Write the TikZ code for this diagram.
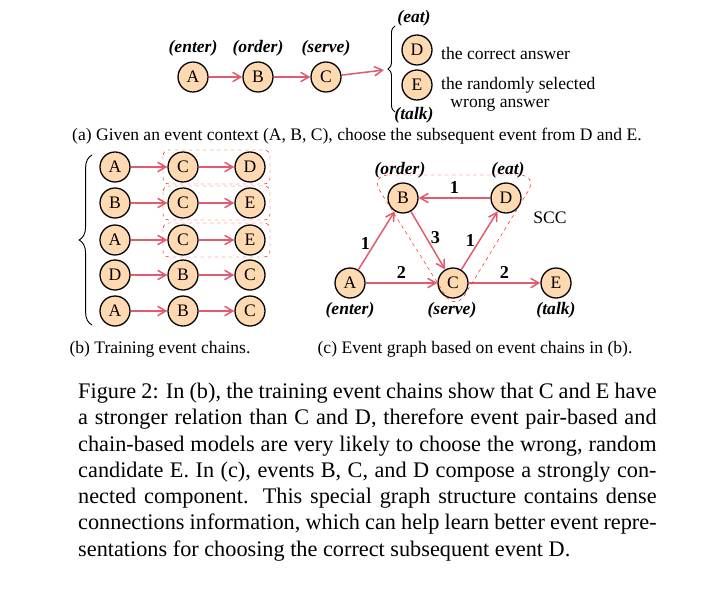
\documentclass[tikz,border=0pt]{standalone}
\usepackage{fontspec}
\setmainfont{Liberation Serif}
\usetikzlibrary{arrows.meta,decorations.pathreplacing}
\begin{document}
\begin{tikzpicture}
[x=0.03cm,y=-0.03cm,
% Styles
event/.style={circle,draw,line width=1.1pt,fill=orange!30,minimum size=0.9cm,inner sep=0pt,font=\fontsize{15}{15}\selectfont},
link/.style={-{Straight Barb[length=7pt,width=8pt,line width=1.3pt]},line width=1.3pt,draw=linkcolor},
role/.style={font=\fontsize{15}{15}\selectfont\bfseries\itshape},
weight/.style={font=\fontsize{15.5}{15.5}\selectfont\bfseries},
group box/.style={draw=red!80!orange,dashed,rounded corners=5pt},
caption/.style={font=\fontsize{15}{15}\selectfont}]
\definecolor{linkcolor}{RGB}{226,92,112}
\useasboundingbox (0,0) rectangle (702,591);

% (a) the context
\foreach \n/\x/\r in {A/193/enter,B/258/order,C/326/serve}{
\node[event] (a\n) at (\x,77) {\n};
\node[role] (r\n) at (\x,48) {(\r)};
}
\node[event] (aD) at (417,50) {D};
\node[event] (aE) at (417,85) {E};
\draw[link] (aA) -- (aB);
\draw[link] (aB) -- (aC);
\coordinate (bracetip) at (384,70);
\draw[link] (aC) -- (bracetip);
\draw[thick,decorate,decoration={brace,amplitude=6pt}] (395,112) -- (395,26);
\node[role] (reat) at (414,18) {(eat)};
\node[role] (rtalk) at (414,115) {(talk)};
\node[caption,anchor=west] (tD) at (437,53) {the correct answer};
\node[caption,anchor=west] (tE) at (437,85) {the randomly selected};
\node[caption] (tW) at (500,105) {wrong answer};
\node[caption] (capa) at (357,136) {(a) Given an event context (A, B, C), choose the subsequent event from D and E.};

% (b) training chains
\foreach \i/\y/\p/\q/\s in {1/167/A/C/D,2/203/B/C/E,3/240/A/C/E,4/275/D/B/C,5/311/A/B/C}{
\node[event] (b\i p) at (115,\y) {\p};
\node[event] (b\i q) at (183,\y) {\q};
\node[event] (b\i s) at (250,\y) {\s};
\draw[link] (b\i p) -- (b\i q);
\draw[link] (b\i q) -- (b\i s);
}
\foreach \y in {167,203,240}
\draw[group box] (163,\y-17) rectangle (270,\y+17);
\draw[thick,decorate,decoration={brace,amplitude=11pt}] (92,325) -- (92,155);
\node[caption] (capb) at (160,349) {(b) Training event chains.};

% (c) event graph
\node[event] (cA) at (350,283) {A};
\node[event] (cB) at (403,198) {B};
\node[event] (cC) at (453,283) {C};
\node[event] (cD) at (506,198) {D};
\node[event] (cE) at (556,283) {E};
\node[role] (lB) at (400,170) {(order)};
\node[role] (lD) at (508,170) {(eat)};
\node[role] (lA) at (350,310) {(enter)};
\node[role] (lC) at (452,310) {(serve)};
\node[role] (lE) at (556,310) {(talk)};
\draw[link] (cD) -- node[weight,above] {1} (cB);
\draw[link] (cB) -- node[weight,right,pos=0.45] {3} (cC);
\draw[link] (cC) -- node[weight,left,pos=0.5] {1} (cD);
\draw[link] (cA) -- node[weight,left,pos=0.45] {1} (cB);
\draw[link] (cA) -- node[weight,above] {2} (cC);
\draw[link] (cC) -- node[weight,above] {2} (cE);
\draw[group box,thin,rounded corners=16pt] (370,175) -- (538,175) -- (455,311) -- cycle;
\node[caption] (scc) at (550,218) {SCC};
\node[caption] (capc) at (475,349) {(c) Event graph based on event chains in (b).};

% figure caption
\node[anchor=north west,text width=17.35cm,align=justify,inner sep=0pt,
font=\fontsize{19}{22.4}\selectfont] (fig) at (78,383)
{Figure 2: In (b), the training event chains show that C and E have a
stronger relation than C and D, therefore event pair-based and chain-based
models are very likely to choose the wrong, random candidate E. In (c),
events B, C, and D compose a strongly connected component. This special
graph structure contains dense connections information, which can help
learn better event representations for choosing the correct subsequent event D.};
\end{tikzpicture}
\end{document}
